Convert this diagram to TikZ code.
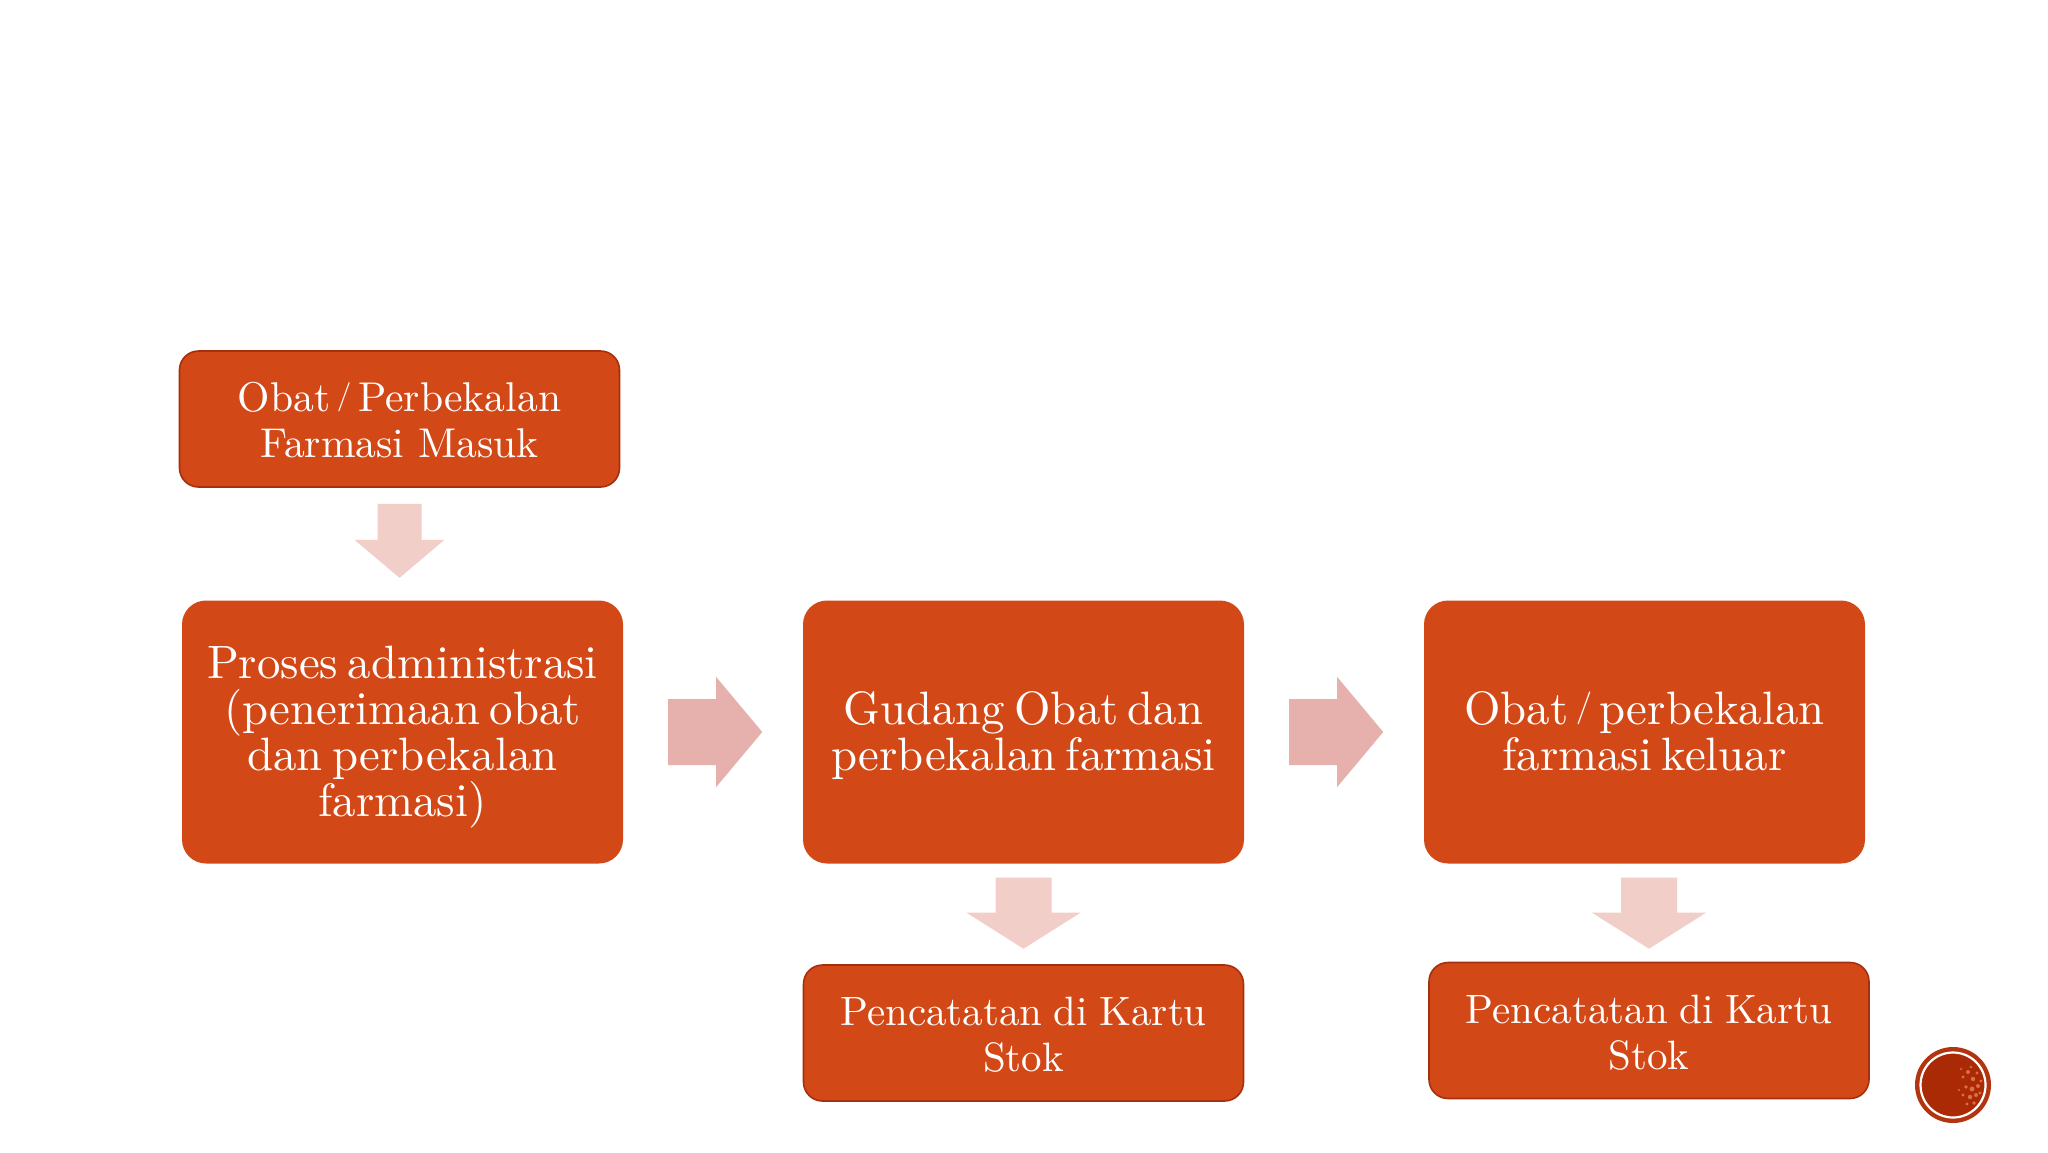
\documentclass[tikz,border=0pt]{standalone}
\usepackage{fontspec}
\usetikzlibrary{calc}
\newfontfamily\boxfont{lmroman10-regular.otf}
\definecolor{boxfill}{HTML}{D34817}
\definecolor{boxline}{HTML}{A5300F}
\definecolor{arrowpale}{HTML}{F2CEC9}
\definecolor{arrowmid}{HTML}{E6B0AC}
\definecolor{badge}{HTML}{AB2A06}
\definecolor{speck}{HTML}{DB6E45}
\newcommand{\topgap}[1]{\rule{0pt}{#1pt}}
\newcommand{\botgap}{\rule[-13.8pt]{0pt}{13.8pt}}
\newcommand{\tight}[1]{{\spaceskip=.16em\relax #1}}
\newcommand{\slashmark}{\raisebox{.17em}{\scalebox{.7}{/}}}
\tikzset{
  x=1pt,y=-1pt,
  bigbox/.style={fill=boxfill,draw=none,rounded corners=24pt,align=center,text=white,inner sep=0pt,anchor=center,
    minimum width=441pt,minimum height=263pt,font={\boxfont\fontsize{46.8}{46}\selectfont\spaceskip=.2em\relax}},
  smallbox/.style={fill=boxfill,draw=boxline,line width=1.6pt,rounded corners=19pt,align=center,text=white,inner sep=0pt,anchor=center,
    minimum width=440pt,minimum height=136pt},
  smalla/.style={smallbox,font={\boxfont\fontsize{41.6}{46}\selectfont}},
  smallb/.style={smallbox,font={\boxfont\fontsize{41}{46}\selectfont\spaceskip=.28em\relax}},
  palearrow/.style={fill=arrowpale,draw=none},
  midarrow/.style={fill=arrowmid,draw=none}
}
\begin{document}
\begin{tikzpicture}
\useasboundingbox (0,0) rectangle (2048,1152);
\fill[white] (0,0) rectangle (2048,1152);
% boxes
\node[smalla] (masuk) at (399.5,419) {\topgap{45.2}\tight{Obat \slashmark{} Perbekalan}\\Farmasi Masuk\botgap};
\node[bigbox] (admin) at (402.5,732) {\topgap{44.2}Proses administrasi\\(penerimaan obat\\dan perbekalan\\farmasi)\botgap};
\node[bigbox] (gudang) at (1023.5,732) {\topgap{44.2}Gudang Obat dan\\perbekalan farmasi\botgap};
\node[bigbox] (keluar) at (1644.5,732) {\topgap{44.2}\tight{Obat \slashmark{} perbekalan}\\farmasi keluar\botgap};
\node[smallb] (kartua) at (1023.5,1033) {\topgap{45.2}Pencatatan di Kartu\\Stok\botgap};
\node[smallb] (kartub) at (1649,1030.5) {\topgap{45.2}Pencatatan di Kartu\\Stok\botgap};
% block arrows
\fill[palearrow,shift={(masuk.south)}] (-22,16) -- (22,16) -- (22,52) -- (45,52) -- (0,90) -- (-45,52) -- (-22,52) -- cycle;
\fill[palearrow,shift={(gudang.south)}] (-28,14) -- (28,14) -- (28,49) -- (57,49) -- (0,85) -- (-57,49) -- (-28,49) -- cycle;
\fill[palearrow,shift={(keluar.south)}] (-23.5,14) -- (32.5,14) -- (32.5,49) -- (61.5,49) -- (4.5,85) -- (-52.5,49) -- (-23.5,49) -- cycle;
\fill[midarrow,shift={(admin.east)}] (45,-33) -- (93,-33) -- (93,-55) -- (139,0) -- (93,55) -- (93,33) -- (45,33) -- cycle;
\fill[midarrow,shift={(gudang.east)}] (45,-33) -- (93,-33) -- (93,-55) -- (139,0) -- (93,55) -- (93,33) -- (45,33) -- cycle;
% page badge
\fill[badge!85!speck] (1953,1085) circle (38);
\begin{scope}
\clip (1953,1085) circle (31.5);
\fill[badge] (1953,1085) circle (31.5);
\foreach \dx/\dy/\r in {10/-8/1.6,15/-13/2,20/-6/2.2,24/-12/1.6,13/2/1.8,19/4/2.4,25/1/2,28/-4/1.6,10/10/1.6,17/12/2.2,23/10/2,27/8/1.6,14/19/1.6,21/18/1.8,6/5/1.2,18/-18/1.4,8/-16/1.2}{
  \fill[speck] (1953+\dx,1085+\dy) circle (\r);
}
\end{scope}
\draw[white,line width=2.2pt] (1953,1085) circle (32.5);
\end{tikzpicture}
\end{document}
